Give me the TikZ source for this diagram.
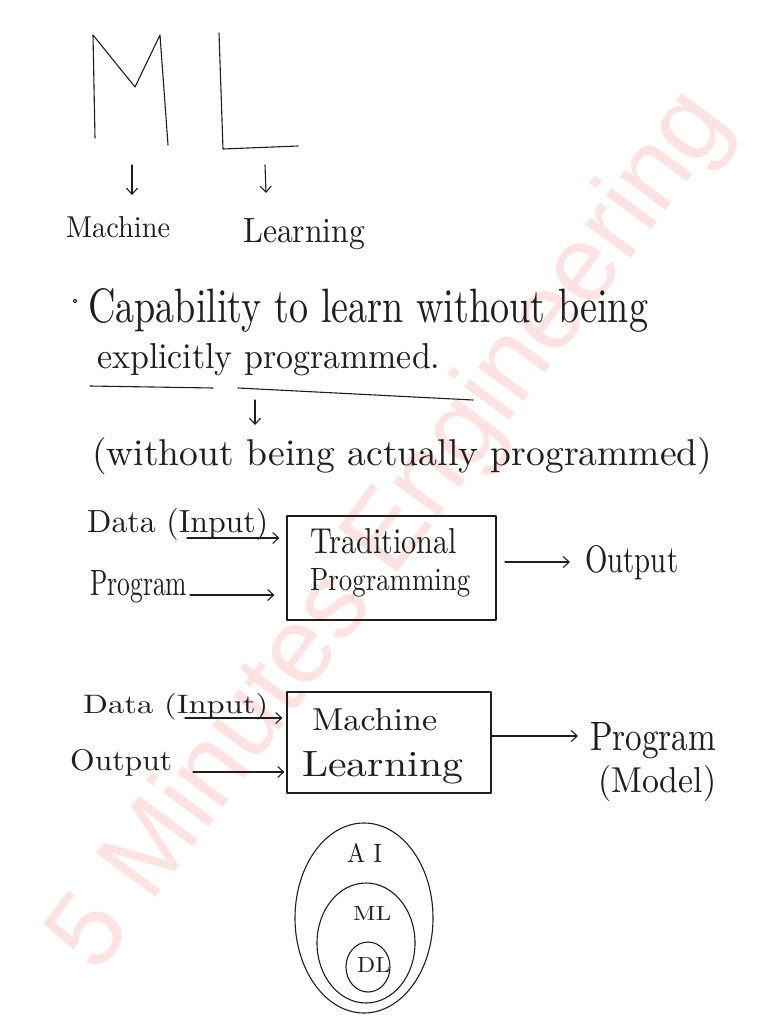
\documentclass[tikz,border=0pt]{standalone}
\usepackage{fontspec}
\usepackage{graphicx}
\usetikzlibrary{arrows.meta}
\newfontfamily\wmfont{Liberation Sans}
\definecolor{wm}{RGB}{253,226,226}
\definecolor{ink}{RGB}{30,30,30}
\newcommand{\hw}[3]{\resizebox{#1pt}{#2pt}{#3}}
\begin{document}
\begin{tikzpicture}[x=1pt,y=-1pt,
  pen/.style={draw=ink, line width=1.1pt, line cap=round, line join=round},
  arr/.style={pen, -{Straight Barb[length=6pt,width=11pt]}},
  txt/.style={inner sep=0pt, anchor=base west, text=ink},
  box/.style={pen, rectangle, inner sep=0pt}]
\useasboundingbox[fill=white] (0,0) rectangle (768,1024);
% watermark
\node[rotate=53.4, text=wm, inner sep=0pt, font=\wmfont\fontsize{107}{120}\selectfont] (wmk) at (393,532) {5 Minutes Engineering};
% big M L
\draw[pen] (95,138) -- (93,35) -- (135,87) -- (160,35) -- (168,145);
\draw[pen] (219,33) -- (223,149) -- (298,146);
% words
\node[txt] (mach) at (66,237) {\hw{104}{21}{Machine}};
\node[txt] (learn) at (243,242) {\hw{122}{24}{Learning}};
\coordinate (mA) at (132,165); \coordinate (mB) at (132,195);
\coordinate (lA) at (265,165); \coordinate (lB) at (266,193);
\draw[arr] (mA) -- (mB);
\draw[arr] (lA) -- (lB);
% definition
\draw[pen] (75,301) circle (1.8);
\node[txt] (cap) at (88,322) {\hw{560}{34}{Capability to learn without being}};
\node[txt] (expl) at (97,368) {\hw{343}{25}{explicitly programmed.}};
\draw[pen] (90,386) -- (213,388);
\draw[pen] (238,388) -- (473,400);
\coordinate (uA) at (255,400); \coordinate (uB) at (255,425);
\draw[arr] (uA) -- (uB);
\node[txt] (wo) at (92,465) {\hw{620}{28}{(without being actually programmed)}};
% traditional programming
\node[txt] (d1) at (87,532) {\hw{181}{24}{Data (Input)}};
\node[txt] (p1) at (90,595) {\hw{97}{25}{Program}};
\node[box, minimum width=209pt, minimum height=104pt] (tp) at (391.5,568) {};
\node[txt] (tp1) at (310,553) {\hw{147}{25}{Traditional}};
\node[txt] (tp2) at (310,590) {\hw{160}{22}{Programming}};
\node[txt] (o1) at (585,572) {\hw{93}{27}{Output}};
\coordinate (d1s) at (187,538);
\coordinate (p1s) at (190,595);
\coordinate (t1o) at (505,562);
\draw[arr, shorten >=7pt] (d1s) -- (d1s -| tp.west);
\draw[arr, shorten >=12pt] (p1s) -- (p1s -| tp.west);
\draw[arr, shorten >=15pt] (t1o) -- (t1o -| o1.west);
% machine learning
\node[txt] (d2) at (83,713) {\hw{185}{20}{Data (Input)}};
\node[txt] (o2) at (70,770) {\hw{102}{21}{Output}};
\node[box, minimum width=204pt, minimum height=101pt] (mlb) at (389,742.5) {};
\node[txt] (mb1) at (312,730) {\hw{125}{22}{Machine}};
\node[txt] (mb2) at (302,776) {\hw{161}{25}{Learning}};
\node[txt] (pr2) at (590,750) {\hw{126}{28}{Program}};
\node[txt] (mod) at (598,792) {\hw{118}{27}{(Model)}};
\coordinate (d2s) at (185,718);
\coordinate (o2s) at (193,772);
\coordinate (m2o) at (492,736);
\draw[arr, shorten >=4pt] (d2s) -- (d2s -| mlb.west);
\draw[arr, shorten >=2pt] (o2s) -- (o2s -| mlb.west);
\draw[arr, shorten >=12pt] (m2o) -- (m2o -| pr2.west);
% AI / ML / DL
\draw[pen] (364,918) ellipse [x radius=69, y radius=95];
\draw[pen] (366,943) ellipse [x radius=49, y radius=60];
\draw[pen] (368,967) ellipse [x radius=22, y radius=25];
\node[txt] (ai) at (347,862) {\hw{35}{19}{A I}};
\node[txt] (ml) at (353,920) {\hw{38}{14}{ML}};
\node[txt] (dl) at (357,972) {\hw{33}{15}{DL}};
\end{tikzpicture}
\end{document}
